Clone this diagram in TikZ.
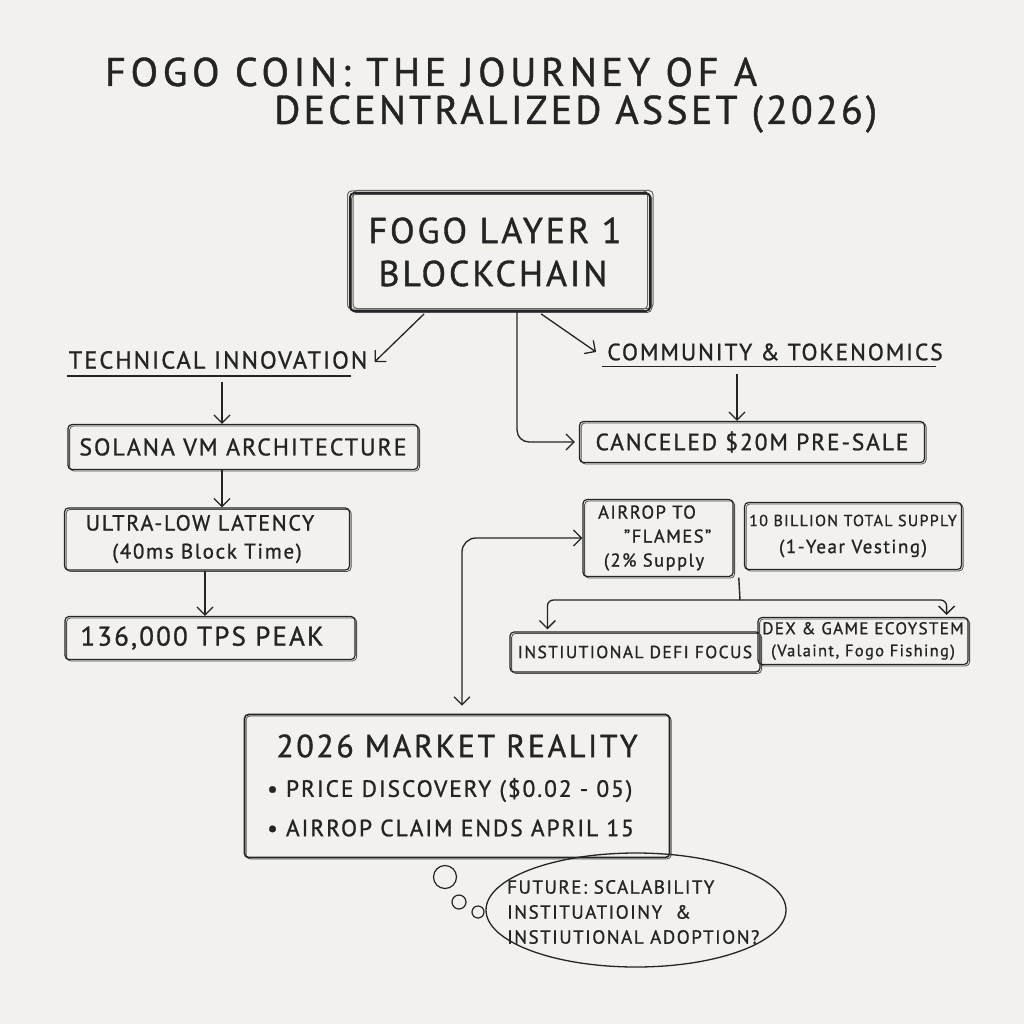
\documentclass[tikz,border=0pt]{standalone}
\usepackage{fontspec}
\setmainfont[LetterSpace=8,FakeBold=1]{PT Sans}
\usetikzlibrary{arrows.meta,shapes.geometric,calc}
\definecolor{ink}{HTML}{242424}
\definecolor{paper}{HTML}{F2F1EE}
\newcommand{\fs}[2]{\fontsize{#1}{#2}\selectfont}
\begin{document}
\begin{tikzpicture}[x=1pt,y=-1pt,
  lbl/.style={text=ink, inner sep=1pt, align=center},
  sbox/.style={draw=ink, line width=1.2pt, rounded corners=4pt, inner sep=0pt, align=center, text=ink,
    preaction={draw=ink!80, line width=0.8pt, transform canvas={shift={(1.6pt,-1.4pt)}}}},
  bigbox/.style={sbox, line width=1.8pt,
    preaction={draw=ink!70, line width=1pt, transform canvas={shift={(-2.5pt,2pt)}}},
    preaction={draw=ink!70, line width=1pt, transform canvas={shift={(3pt,2.5pt)}}}},
  arr/.style={draw=ink, line width=1.3pt, -{Straight Barb[length=8pt,width=16pt,line width=1.3pt]}},
  arrb/.style={draw=ink, line width=1.3pt, {Straight Barb[length=8pt,width=16pt,line width=1.3pt]}-{Straight Barb[length=8pt,width=16pt,line width=1.3pt]}},
  uline/.style={draw=ink, line width=1.4pt},
]
\useasboundingbox[fill=paper] (0,0) rectangle (1024,1024);

% title
\node[lbl, inner sep=0pt, anchor=west, font=\fs{40}{48}\addfontfeature{LetterSpace=12}] (t1) at (105,72) {FOGO COIN: THE JOURNEY OF A};
\node[lbl, inner sep=0pt, anchor=west, font=\fs{40}{48}] (t2) at (274,114) {DECENTRALIZED ASSET (2026)};

% main box
\node[bigbox, minimum width=300, minimum height=118, font=\fs{36}{43}] (fogo) at (500,252) {FOGO LAYER 1\hspace*{10pt}\\BLOCKCHAIN\hspace*{14pt}};

% section labels
\node[lbl, font=\fs{24.5}{29}] (tech) at (218,360) {TECHNICAL INNOVATION};
\draw[uline] ($(tech.south west)+(0,6)$) -- ($(tech.south east)+(-18,6)$);
\node[lbl, font=\fs{23.5}{28}] (comm) at (775,352) {COMMUNITY \& TOKENOMICS};
\draw[uline] ($(comm.south west)+(-4,5)$) -- ($(comm.south east)+(-8,5)$);

\draw[arr] ($(fogo.south west)+(75,2)$) -- ($(tech.east)+(6,2)$);
\draw[arr] ($(fogo.south west)+(192,2)$) -- ($(comm.west)+(-10,0)$);

% left column
\node[sbox, minimum width=350, minimum height=45, font=\fs{24}{29}] (sol) at (243,447) {SOLANA VM ARCHITECTURE};
\node[sbox, minimum width=285, minimum height=62, font=\fs{22}{28}] (ultra) at (207,539) {ULTRA-LOW LATENCY\hspace*{14pt}\\\fs{21}{28}(40ms Block Time)};
\node[sbox, minimum width=290, minimum height=43, font=\fs{27}{32}] (tps) at (210,638) {136,000 TPS PEAK\hspace*{16pt}};
\draw[arr] ($(tech.south)+(4,12)$) -- (sol.north -| 222,0);
\draw[arr] (sol.south -| 222,0) -- (ultra.north -| 222,0);
\draw[arr] (ultra.south -| 205,0) -- (tps.north -| 205,0);

% right column
\node[sbox, minimum width=345, minimum height=41, font=\fs{23.5}{28}] (cancel) at (752,442) {CANCELED \$20M PRE-SALE};
\draw[arr] ($(comm.south)+(-38,12)$) -- (cancel.north -| 737,0);
\coordinate (mid) at (517,0);
\draw[arr, rounded corners=12pt] (fogo.south -| mid) |- ($(cancel.west)+(-4,0)$);

\node[sbox, minimum width=150, minimum height=77, font=\fs{18.5}{24}] (air) at (658,538) {AIRROP TO\hspace*{22pt}\\\ \ \ "FLAMES"\\(2\% Supply\hspace*{8pt}};
\node[sbox, minimum width=217, minimum height=67, font=\fs{16}{27}] (bil) at (853,536) {10 BILLION TOTAL SUPPLY\\\fs{19}{27}(1-Year Vesting)};

\coordinate (bj) at (740,600);
\draw[uline] ($(air.south east)!0.5!(bil.south west)+(0,4)$) -- (bj);
\node[sbox, minimum width=250, minimum height=40, font=\fs{17.5}{21}] (defi) at (635,652) {INSTIUTIONAL DEFI FOCUS};
\node[sbox, minimum width=210, minimum height=47, font=\fs{17}{22}] (dex) at (863,641) {DEX \& GAME ECOYSTEM\\\fs{16.5}{22}(Valaint, Fogo Fishing)};
\draw[arr, rounded corners=6pt] (bj) -| ($(defi.north west)+(38,-2)$);
\draw[arr, rounded corners=6pt] (bj) -| ($(dex.north east)+(-22,-2)$);

% market reality
\node[sbox, line width=1.6pt, minimum width=425, minimum height=143] (mkt) at (457,786) {};
\node[lbl, font=\fs{32}{38}] (mt) at (457,746) {2026 MARKET REALITY};
\node[lbl, anchor=west, font=\fs{23.5}{28}] (mb1) at (266,790) {• PRICE DISCOVERY (\$0.02 - 05)};
\node[lbl, anchor=west, font=\fs{23.5}{28}] (mb2) at (266,828) {• AIRROP CLAIM ENDS APRIL 15};
\coordinate (dx) at (462,0);
\draw[arrb, rounded corners=14pt] (air.west) -| ($(dx |- mkt.north)+(0,-8)$);

% thought
\node[draw=ink, line width=1.2pt, circle, minimum size=23, inner sep=0pt] (b1) at (445,877) {};
\node[draw=ink, line width=1.2pt, circle, minimum size=14, inner sep=0pt] (b2) at (459,902) {};
\node[draw=ink, line width=1.2pt, circle, minimum size=12, inner sep=0pt] (b3) at (478,912) {};
\node[draw=ink, line width=1.3pt, ellipse, minimum width=300, minimum height=114, inner sep=0pt] (cloud) at (636,910) {};
\node[lbl, align=left, anchor=west, font=\fs{19}{25}] (fut) at (506,912) {FUTURE: SCALABILITY\\INSTITUATIOINY \ \&\\INSTIUTIONAL ADOPTION?};
\end{tikzpicture}
\end{document}
